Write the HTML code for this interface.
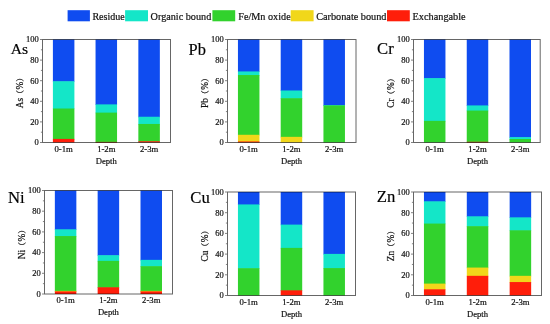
<!DOCTYPE html>
<html><head><meta charset="utf-8"><title>Heavy metal fractions by depth</title>
<style>html,body{margin:0;padding:0;background:#fff}svg{display:block}text{stroke:#111;stroke-width:.2px}</style></head>
<body>
<svg width="550" height="324" viewBox="0 0 550 324" font-family='"Liberation Serif","Noto Serif CJK SC",serif'>
<rect width="550" height="324" fill="#fff"/>
<rect x="67.6" y="10.2" width="22.3" height="11.1" fill="#0f4cf0"/>
<text x="92.4" y="19.55" font-size="10.0" fill="#111">Residue</text>
<rect x="125.1" y="10.2" width="22.9" height="11.1" fill="#14e6c8"/>
<text x="150.6" y="19.55" font-size="10.2" fill="#111">Organic bound</text>
<rect x="212.4" y="10.2" width="22.8" height="11.1" fill="#32d22d"/>
<text x="238.3" y="19.55" font-size="10.2" fill="#111">Fe/Mn oxide</text>
<rect x="290.7" y="10.2" width="22.9" height="11.1" fill="#f1d71a"/>
<text x="316.2" y="19.55" font-size="10.25" fill="#111">Carbonate bound</text>
<rect x="387.0" y="10.2" width="22.8" height="11.1" fill="#ff1e0a"/>
<text x="412.5" y="19.55" font-size="10.3" fill="#111">Exchangable</text>
<g>
<rect x="52.90" y="39.50" width="21.5" height="42.32" fill="#0f4cf0"/>
<rect x="52.90" y="81.22" width="21.5" height="27.89" fill="#14e6c8"/>
<rect x="52.90" y="108.51" width="21.5" height="30.99" fill="#32d22d"/>
<rect x="52.90" y="138.90" width="21.5" height="3.60" fill="#ff1e0a"/>
<rect x="95.55" y="39.50" width="21.5" height="65.49" fill="#0f4cf0"/>
<rect x="95.55" y="104.39" width="21.5" height="8.84" fill="#14e6c8"/>
<rect x="95.55" y="112.63" width="21.5" height="29.85" fill="#32d22d"/>
<rect x="95.55" y="141.88" width="21.5" height="0.62" fill="#ff1e0a"/>
<rect x="138.35" y="39.50" width="21.5" height="77.85" fill="#0f4cf0"/>
<rect x="138.35" y="116.75" width="21.5" height="7.81" fill="#14e6c8"/>
<rect x="138.35" y="123.96" width="21.5" height="17.90" fill="#32d22d"/>
<rect x="138.35" y="141.26" width="21.5" height="1.24" fill="#ff1e0a"/>
<rect x="42.5" y="39.5" width="128.00" height="103.00" fill="none" stroke="#000" stroke-opacity="0.6" stroke-width="1"/>
<line x1="40.00" x2="42.0" y1="142.50" y2="142.50" stroke="#000" stroke-opacity="0.55" stroke-width="0.9"/>
<text x="38.70" y="145.30" font-size="8.5" text-anchor="end" fill="#111">0</text>
<line x1="40.90" x2="42.0" y1="132.20" y2="132.20" stroke="#000" stroke-opacity="0.55" stroke-width="0.9"/>
<line x1="40.00" x2="42.0" y1="121.90" y2="121.90" stroke="#000" stroke-opacity="0.55" stroke-width="0.9"/>
<text x="38.70" y="124.70" font-size="8.5" text-anchor="end" fill="#111">20</text>
<line x1="40.90" x2="42.0" y1="111.60" y2="111.60" stroke="#000" stroke-opacity="0.55" stroke-width="0.9"/>
<line x1="40.00" x2="42.0" y1="101.30" y2="101.30" stroke="#000" stroke-opacity="0.55" stroke-width="0.9"/>
<text x="38.70" y="104.10" font-size="8.5" text-anchor="end" fill="#111">40</text>
<line x1="40.90" x2="42.0" y1="91.00" y2="91.00" stroke="#000" stroke-opacity="0.55" stroke-width="0.9"/>
<line x1="40.00" x2="42.0" y1="80.70" y2="80.70" stroke="#000" stroke-opacity="0.55" stroke-width="0.9"/>
<text x="38.70" y="83.50" font-size="8.5" text-anchor="end" fill="#111">60</text>
<line x1="40.90" x2="42.0" y1="70.40" y2="70.40" stroke="#000" stroke-opacity="0.55" stroke-width="0.9"/>
<line x1="40.00" x2="42.0" y1="60.10" y2="60.10" stroke="#000" stroke-opacity="0.55" stroke-width="0.9"/>
<text x="38.70" y="62.90" font-size="8.5" text-anchor="end" fill="#111">80</text>
<line x1="40.90" x2="42.0" y1="49.80" y2="49.80" stroke="#000" stroke-opacity="0.55" stroke-width="0.9"/>
<line x1="40.00" x2="42.0" y1="39.50" y2="39.50" stroke="#000" stroke-opacity="0.55" stroke-width="0.9"/>
<text x="38.70" y="42.30" font-size="8.5" text-anchor="end" fill="#111">100</text>
<text x="63.65" y="151.95" font-size="8.7" text-anchor="middle" fill="#111">0-1m</text>
<text x="106.30" y="151.95" font-size="8.7" text-anchor="middle" fill="#111">1-2m</text>
<text x="149.10" y="151.95" font-size="8.7" text-anchor="middle" fill="#111">2-3m</text>
<text x="106.30" y="163.90" font-size="8.6" text-anchor="middle" fill="#111">Depth</text>
<text transform="translate(22.70,107.53) rotate(-90)" font-size="8.7" fill="#111"><tspan x="-0.67" font-size="9.3">As</tspan><tspan x="9.25" font-size="8.2">（</tspan><tspan x="18.10" font-size="9.4">%</tspan><tspan x="25.90" font-size="8.2">）</tspan></text>
<text x="19.4" y="53.7" font-size="15.6" text-anchor="middle" fill="#000">As</text>
</g>
<g>
<rect x="237.95" y="39.50" width="21.5" height="32.53" fill="#0f4cf0"/>
<rect x="237.95" y="71.43" width="21.5" height="4.20" fill="#14e6c8"/>
<rect x="237.95" y="75.03" width="21.5" height="60.34" fill="#32d22d"/>
<rect x="237.95" y="134.78" width="21.5" height="7.29" fill="#f1d71a"/>
<rect x="237.95" y="141.47" width="21.5" height="1.03" fill="#ff1e0a"/>
<rect x="280.70" y="39.50" width="21.5" height="51.59" fill="#0f4cf0"/>
<rect x="280.70" y="90.48" width="21.5" height="8.33" fill="#14e6c8"/>
<rect x="280.70" y="98.21" width="21.5" height="39.23" fill="#32d22d"/>
<rect x="280.70" y="136.84" width="21.5" height="5.66" fill="#f1d71a"/>
<rect x="323.45" y="39.50" width="21.5" height="66.21" fill="#0f4cf0"/>
<rect x="323.45" y="105.11" width="21.5" height="0.91" fill="#14e6c8"/>
<rect x="323.45" y="105.42" width="21.5" height="37.08" fill="#32d22d"/>
<rect x="227.5" y="39.5" width="128.50" height="103.00" fill="none" stroke="#000" stroke-opacity="0.6" stroke-width="1"/>
<line x1="225.00" x2="227.0" y1="142.50" y2="142.50" stroke="#000" stroke-opacity="0.55" stroke-width="0.9"/>
<text x="223.70" y="145.30" font-size="8.5" text-anchor="end" fill="#111">0</text>
<line x1="225.90" x2="227.0" y1="132.20" y2="132.20" stroke="#000" stroke-opacity="0.55" stroke-width="0.9"/>
<line x1="225.00" x2="227.0" y1="121.90" y2="121.90" stroke="#000" stroke-opacity="0.55" stroke-width="0.9"/>
<text x="223.70" y="124.70" font-size="8.5" text-anchor="end" fill="#111">20</text>
<line x1="225.90" x2="227.0" y1="111.60" y2="111.60" stroke="#000" stroke-opacity="0.55" stroke-width="0.9"/>
<line x1="225.00" x2="227.0" y1="101.30" y2="101.30" stroke="#000" stroke-opacity="0.55" stroke-width="0.9"/>
<text x="223.70" y="104.10" font-size="8.5" text-anchor="end" fill="#111">40</text>
<line x1="225.90" x2="227.0" y1="91.00" y2="91.00" stroke="#000" stroke-opacity="0.55" stroke-width="0.9"/>
<line x1="225.00" x2="227.0" y1="80.70" y2="80.70" stroke="#000" stroke-opacity="0.55" stroke-width="0.9"/>
<text x="223.70" y="83.50" font-size="8.5" text-anchor="end" fill="#111">60</text>
<line x1="225.90" x2="227.0" y1="70.40" y2="70.40" stroke="#000" stroke-opacity="0.55" stroke-width="0.9"/>
<line x1="225.00" x2="227.0" y1="60.10" y2="60.10" stroke="#000" stroke-opacity="0.55" stroke-width="0.9"/>
<text x="223.70" y="62.90" font-size="8.5" text-anchor="end" fill="#111">80</text>
<line x1="225.90" x2="227.0" y1="49.80" y2="49.80" stroke="#000" stroke-opacity="0.55" stroke-width="0.9"/>
<line x1="225.00" x2="227.0" y1="39.50" y2="39.50" stroke="#000" stroke-opacity="0.55" stroke-width="0.9"/>
<text x="223.70" y="42.30" font-size="8.5" text-anchor="end" fill="#111">100</text>
<text x="248.70" y="151.95" font-size="8.7" text-anchor="middle" fill="#111">0-1m</text>
<text x="291.45" y="151.95" font-size="8.7" text-anchor="middle" fill="#111">1-2m</text>
<text x="334.20" y="151.95" font-size="8.7" text-anchor="middle" fill="#111">2-3m</text>
<text x="291.45" y="163.90" font-size="8.6" text-anchor="middle" fill="#111">Depth</text>
<text transform="translate(207.70,107.29) rotate(-90)" font-size="8.7" fill="#111"><tspan x="-0.63" font-size="9.3">Pb</tspan><tspan x="8.77" font-size="8.2">（</tspan><tspan x="17.62" font-size="9.4">%</tspan><tspan x="25.42" font-size="8.2">）</tspan></text>
<text x="197.2" y="54.6" font-size="16.4" text-anchor="middle" fill="#000">Pb</text>
</g>
<g>
<rect x="423.95" y="39.50" width="21.5" height="39.23" fill="#0f4cf0"/>
<rect x="423.95" y="78.12" width="21.5" height="43.35" fill="#14e6c8"/>
<rect x="423.95" y="120.87" width="21.5" height="21.63" fill="#32d22d"/>
<rect x="466.75" y="39.50" width="21.5" height="66.52" fill="#0f4cf0"/>
<rect x="466.75" y="105.42" width="21.5" height="5.75" fill="#14e6c8"/>
<rect x="466.75" y="110.57" width="21.5" height="31.81" fill="#32d22d"/>
<rect x="466.75" y="141.78" width="21.5" height="0.72" fill="#ff1e0a"/>
<rect x="509.50" y="39.50" width="21.5" height="98.24" fill="#0f4cf0"/>
<rect x="509.50" y="137.14" width="21.5" height="2.45" fill="#14e6c8"/>
<rect x="509.50" y="139.00" width="21.5" height="3.50" fill="#32d22d"/>
<rect x="413.5" y="39.5" width="126.70" height="103.00" fill="none" stroke="#000" stroke-opacity="0.6" stroke-width="1"/>
<line x1="411.00" x2="413.0" y1="142.50" y2="142.50" stroke="#000" stroke-opacity="0.55" stroke-width="0.9"/>
<text x="409.70" y="145.30" font-size="8.5" text-anchor="end" fill="#111">0</text>
<line x1="411.90" x2="413.0" y1="132.20" y2="132.20" stroke="#000" stroke-opacity="0.55" stroke-width="0.9"/>
<line x1="411.00" x2="413.0" y1="121.90" y2="121.90" stroke="#000" stroke-opacity="0.55" stroke-width="0.9"/>
<text x="409.70" y="124.70" font-size="8.5" text-anchor="end" fill="#111">20</text>
<line x1="411.90" x2="413.0" y1="111.60" y2="111.60" stroke="#000" stroke-opacity="0.55" stroke-width="0.9"/>
<line x1="411.00" x2="413.0" y1="101.30" y2="101.30" stroke="#000" stroke-opacity="0.55" stroke-width="0.9"/>
<text x="409.70" y="104.10" font-size="8.5" text-anchor="end" fill="#111">40</text>
<line x1="411.90" x2="413.0" y1="91.00" y2="91.00" stroke="#000" stroke-opacity="0.55" stroke-width="0.9"/>
<line x1="411.00" x2="413.0" y1="80.70" y2="80.70" stroke="#000" stroke-opacity="0.55" stroke-width="0.9"/>
<text x="409.70" y="83.50" font-size="8.5" text-anchor="end" fill="#111">60</text>
<line x1="411.90" x2="413.0" y1="70.40" y2="70.40" stroke="#000" stroke-opacity="0.55" stroke-width="0.9"/>
<line x1="411.00" x2="413.0" y1="60.10" y2="60.10" stroke="#000" stroke-opacity="0.55" stroke-width="0.9"/>
<text x="409.70" y="62.90" font-size="8.5" text-anchor="end" fill="#111">80</text>
<line x1="411.90" x2="413.0" y1="49.80" y2="49.80" stroke="#000" stroke-opacity="0.55" stroke-width="0.9"/>
<line x1="411.00" x2="413.0" y1="39.50" y2="39.50" stroke="#000" stroke-opacity="0.55" stroke-width="0.9"/>
<text x="409.70" y="42.30" font-size="8.5" text-anchor="end" fill="#111">100</text>
<text x="434.70" y="151.95" font-size="8.7" text-anchor="middle" fill="#111">0-1m</text>
<text x="477.50" y="151.95" font-size="8.7" text-anchor="middle" fill="#111">1-2m</text>
<text x="520.25" y="151.95" font-size="8.7" text-anchor="middle" fill="#111">2-3m</text>
<text x="477.50" y="163.90" font-size="8.6" text-anchor="middle" fill="#111">Depth</text>
<text transform="translate(393.70,107.05) rotate(-90)" font-size="8.7" fill="#111"><tspan x="-0.60" font-size="9.3">Cr</tspan><tspan x="8.28" font-size="8.2">（</tspan><tspan x="17.13" font-size="9.4">%</tspan><tspan x="24.93" font-size="8.2">）</tspan></text>
<text x="385.4" y="53.7" font-size="16.7" text-anchor="middle" fill="#000">Cr</text>
</g>
<g>
<rect x="54.85" y="190.50" width="21.5" height="39.41" fill="#0f4cf0"/>
<rect x="54.85" y="229.31" width="21.5" height="7.33" fill="#14e6c8"/>
<rect x="54.85" y="236.04" width="21.5" height="55.45" fill="#32d22d"/>
<rect x="54.85" y="290.89" width="21.5" height="1.12" fill="#f1d71a"/>
<rect x="54.85" y="291.41" width="21.5" height="2.59" fill="#ff1e0a"/>
<rect x="97.65" y="190.50" width="21.5" height="65.29" fill="#0f4cf0"/>
<rect x="97.65" y="255.19" width="21.5" height="6.29" fill="#14e6c8"/>
<rect x="97.65" y="260.88" width="21.5" height="26.99" fill="#32d22d"/>
<rect x="97.65" y="287.27" width="21.5" height="6.73" fill="#ff1e0a"/>
<rect x="140.50" y="190.50" width="21.5" height="69.95" fill="#0f4cf0"/>
<rect x="140.50" y="259.85" width="21.5" height="6.91" fill="#14e6c8"/>
<rect x="140.50" y="266.16" width="21.5" height="25.34" fill="#32d22d"/>
<rect x="140.50" y="290.89" width="21.5" height="1.12" fill="#f1d71a"/>
<rect x="140.50" y="291.41" width="21.5" height="2.59" fill="#ff1e0a"/>
<rect x="44.5" y="190.5" width="128.00" height="103.50" fill="none" stroke="#000" stroke-opacity="0.6" stroke-width="1"/>
<line x1="42.00" x2="44.0" y1="294.00" y2="294.00" stroke="#000" stroke-opacity="0.55" stroke-width="0.9"/>
<text x="40.70" y="296.80" font-size="8.5" text-anchor="end" fill="#111">0</text>
<line x1="42.90" x2="44.0" y1="283.65" y2="283.65" stroke="#000" stroke-opacity="0.55" stroke-width="0.9"/>
<line x1="42.00" x2="44.0" y1="273.30" y2="273.30" stroke="#000" stroke-opacity="0.55" stroke-width="0.9"/>
<text x="40.70" y="276.10" font-size="8.5" text-anchor="end" fill="#111">20</text>
<line x1="42.90" x2="44.0" y1="262.95" y2="262.95" stroke="#000" stroke-opacity="0.55" stroke-width="0.9"/>
<line x1="42.00" x2="44.0" y1="252.60" y2="252.60" stroke="#000" stroke-opacity="0.55" stroke-width="0.9"/>
<text x="40.70" y="255.40" font-size="8.5" text-anchor="end" fill="#111">40</text>
<line x1="42.90" x2="44.0" y1="242.25" y2="242.25" stroke="#000" stroke-opacity="0.55" stroke-width="0.9"/>
<line x1="42.00" x2="44.0" y1="231.90" y2="231.90" stroke="#000" stroke-opacity="0.55" stroke-width="0.9"/>
<text x="40.70" y="234.70" font-size="8.5" text-anchor="end" fill="#111">60</text>
<line x1="42.90" x2="44.0" y1="221.55" y2="221.55" stroke="#000" stroke-opacity="0.55" stroke-width="0.9"/>
<line x1="42.00" x2="44.0" y1="211.20" y2="211.20" stroke="#000" stroke-opacity="0.55" stroke-width="0.9"/>
<text x="40.70" y="214.00" font-size="8.5" text-anchor="end" fill="#111">80</text>
<line x1="42.90" x2="44.0" y1="200.85" y2="200.85" stroke="#000" stroke-opacity="0.55" stroke-width="0.9"/>
<line x1="42.00" x2="44.0" y1="190.50" y2="190.50" stroke="#000" stroke-opacity="0.55" stroke-width="0.9"/>
<text x="40.70" y="193.30" font-size="8.5" text-anchor="end" fill="#111">100</text>
<text x="65.60" y="303.25" font-size="8.7" text-anchor="middle" fill="#111">0-1m</text>
<text x="108.40" y="303.25" font-size="8.7" text-anchor="middle" fill="#111">1-2m</text>
<text x="151.25" y="303.25" font-size="8.7" text-anchor="middle" fill="#111">2-3m</text>
<text x="108.40" y="314.60" font-size="8.6" text-anchor="middle" fill="#111">Depth</text>
<text transform="translate(24.70,258.55) rotate(-90)" font-size="8.7" fill="#111"><tspan x="-0.60" font-size="9.3">Ni</tspan><tspan x="8.28" font-size="8.2">（</tspan><tspan x="17.13" font-size="9.4">%</tspan><tspan x="24.93" font-size="8.2">）</tspan></text>
<text x="16.3" y="202.7" font-size="16.7" text-anchor="middle" fill="#000">Ni</text>
</g>
<g>
<rect x="237.95" y="192.00" width="21.5" height="13.02" fill="#0f4cf0"/>
<rect x="237.95" y="204.42" width="21.5" height="64.36" fill="#14e6c8"/>
<rect x="237.95" y="268.18" width="21.5" height="27.32" fill="#32d22d"/>
<rect x="280.70" y="192.00" width="21.5" height="33.20" fill="#0f4cf0"/>
<rect x="280.70" y="224.60" width="21.5" height="23.89" fill="#14e6c8"/>
<rect x="280.70" y="247.89" width="21.5" height="43.04" fill="#32d22d"/>
<rect x="280.70" y="290.32" width="21.5" height="5.18" fill="#ff1e0a"/>
<rect x="323.45" y="192.00" width="21.5" height="62.49" fill="#0f4cf0"/>
<rect x="323.45" y="253.89" width="21.5" height="14.78" fill="#14e6c8"/>
<rect x="323.45" y="268.07" width="21.5" height="27.43" fill="#32d22d"/>
<rect x="227.5" y="192.0" width="128.00" height="103.50" fill="none" stroke="#000" stroke-opacity="0.6" stroke-width="1"/>
<line x1="225.00" x2="227.0" y1="295.50" y2="295.50" stroke="#000" stroke-opacity="0.55" stroke-width="0.9"/>
<text x="223.70" y="298.30" font-size="8.5" text-anchor="end" fill="#111">0</text>
<line x1="225.90" x2="227.0" y1="285.15" y2="285.15" stroke="#000" stroke-opacity="0.55" stroke-width="0.9"/>
<line x1="225.00" x2="227.0" y1="274.80" y2="274.80" stroke="#000" stroke-opacity="0.55" stroke-width="0.9"/>
<text x="223.70" y="277.60" font-size="8.5" text-anchor="end" fill="#111">20</text>
<line x1="225.90" x2="227.0" y1="264.45" y2="264.45" stroke="#000" stroke-opacity="0.55" stroke-width="0.9"/>
<line x1="225.00" x2="227.0" y1="254.10" y2="254.10" stroke="#000" stroke-opacity="0.55" stroke-width="0.9"/>
<text x="223.70" y="256.90" font-size="8.5" text-anchor="end" fill="#111">40</text>
<line x1="225.90" x2="227.0" y1="243.75" y2="243.75" stroke="#000" stroke-opacity="0.55" stroke-width="0.9"/>
<line x1="225.00" x2="227.0" y1="233.40" y2="233.40" stroke="#000" stroke-opacity="0.55" stroke-width="0.9"/>
<text x="223.70" y="236.20" font-size="8.5" text-anchor="end" fill="#111">60</text>
<line x1="225.90" x2="227.0" y1="223.05" y2="223.05" stroke="#000" stroke-opacity="0.55" stroke-width="0.9"/>
<line x1="225.00" x2="227.0" y1="212.70" y2="212.70" stroke="#000" stroke-opacity="0.55" stroke-width="0.9"/>
<text x="223.70" y="215.50" font-size="8.5" text-anchor="end" fill="#111">80</text>
<line x1="225.90" x2="227.0" y1="202.35" y2="202.35" stroke="#000" stroke-opacity="0.55" stroke-width="0.9"/>
<line x1="225.00" x2="227.0" y1="192.00" y2="192.00" stroke="#000" stroke-opacity="0.55" stroke-width="0.9"/>
<text x="223.70" y="194.80" font-size="8.5" text-anchor="end" fill="#111">100</text>
<text x="248.70" y="304.95" font-size="8.7" text-anchor="middle" fill="#111">0-1m</text>
<text x="291.45" y="304.95" font-size="8.7" text-anchor="middle" fill="#111">1-2m</text>
<text x="334.20" y="304.95" font-size="8.7" text-anchor="middle" fill="#111">2-3m</text>
<text x="291.45" y="316.90" font-size="8.6" text-anchor="middle" fill="#111">Depth</text>
<text transform="translate(207.70,260.78) rotate(-90)" font-size="8.7" fill="#111"><tspan x="-0.70" font-size="9.3">Cu</tspan><tspan x="9.74" font-size="8.2">（</tspan><tspan x="18.59" font-size="9.4">%</tspan><tspan x="26.39" font-size="8.2">）</tspan></text>
<text x="200.1" y="202.5" font-size="16.7" text-anchor="middle" fill="#000">Cu</text>
</g>
<g>
<rect x="423.95" y="192.00" width="21.5" height="9.91" fill="#0f4cf0"/>
<rect x="423.95" y="201.31" width="21.5" height="22.85" fill="#14e6c8"/>
<rect x="423.95" y="223.57" width="21.5" height="60.63" fill="#32d22d"/>
<rect x="423.95" y="283.60" width="21.5" height="6.29" fill="#f1d71a"/>
<rect x="423.95" y="289.29" width="21.5" height="6.21" fill="#ff1e0a"/>
<rect x="466.80" y="192.00" width="21.5" height="24.92" fill="#0f4cf0"/>
<rect x="466.80" y="216.32" width="21.5" height="10.43" fill="#14e6c8"/>
<rect x="466.80" y="226.16" width="21.5" height="42.00" fill="#32d22d"/>
<rect x="466.80" y="267.56" width="21.5" height="8.88" fill="#f1d71a"/>
<rect x="466.80" y="275.83" width="21.5" height="19.67" fill="#ff1e0a"/>
<rect x="509.65" y="192.00" width="21.5" height="25.96" fill="#0f4cf0"/>
<rect x="509.65" y="217.36" width="21.5" height="13.54" fill="#14e6c8"/>
<rect x="509.65" y="230.30" width="21.5" height="46.14" fill="#32d22d"/>
<rect x="509.65" y="275.83" width="21.5" height="6.81" fill="#f1d71a"/>
<rect x="509.65" y="282.05" width="21.5" height="13.45" fill="#ff1e0a"/>
<rect x="413.5" y="192.0" width="128.00" height="103.50" fill="none" stroke="#000" stroke-opacity="0.6" stroke-width="1"/>
<line x1="411.00" x2="413.0" y1="295.50" y2="295.50" stroke="#000" stroke-opacity="0.55" stroke-width="0.9"/>
<text x="409.70" y="298.30" font-size="8.5" text-anchor="end" fill="#111">0</text>
<line x1="411.90" x2="413.0" y1="285.15" y2="285.15" stroke="#000" stroke-opacity="0.55" stroke-width="0.9"/>
<line x1="411.00" x2="413.0" y1="274.80" y2="274.80" stroke="#000" stroke-opacity="0.55" stroke-width="0.9"/>
<text x="409.70" y="277.60" font-size="8.5" text-anchor="end" fill="#111">20</text>
<line x1="411.90" x2="413.0" y1="264.45" y2="264.45" stroke="#000" stroke-opacity="0.55" stroke-width="0.9"/>
<line x1="411.00" x2="413.0" y1="254.10" y2="254.10" stroke="#000" stroke-opacity="0.55" stroke-width="0.9"/>
<text x="409.70" y="256.90" font-size="8.5" text-anchor="end" fill="#111">40</text>
<line x1="411.90" x2="413.0" y1="243.75" y2="243.75" stroke="#000" stroke-opacity="0.55" stroke-width="0.9"/>
<line x1="411.00" x2="413.0" y1="233.40" y2="233.40" stroke="#000" stroke-opacity="0.55" stroke-width="0.9"/>
<text x="409.70" y="236.20" font-size="8.5" text-anchor="end" fill="#111">60</text>
<line x1="411.90" x2="413.0" y1="223.05" y2="223.05" stroke="#000" stroke-opacity="0.55" stroke-width="0.9"/>
<line x1="411.00" x2="413.0" y1="212.70" y2="212.70" stroke="#000" stroke-opacity="0.55" stroke-width="0.9"/>
<text x="409.70" y="215.50" font-size="8.5" text-anchor="end" fill="#111">80</text>
<line x1="411.90" x2="413.0" y1="202.35" y2="202.35" stroke="#000" stroke-opacity="0.55" stroke-width="0.9"/>
<line x1="411.00" x2="413.0" y1="192.00" y2="192.00" stroke="#000" stroke-opacity="0.55" stroke-width="0.9"/>
<text x="409.70" y="194.80" font-size="8.5" text-anchor="end" fill="#111">100</text>
<text x="434.70" y="304.95" font-size="8.7" text-anchor="middle" fill="#111">0-1m</text>
<text x="477.55" y="304.95" font-size="8.7" text-anchor="middle" fill="#111">1-2m</text>
<text x="520.40" y="304.95" font-size="8.7" text-anchor="middle" fill="#111">2-3m</text>
<text x="477.55" y="316.90" font-size="8.6" text-anchor="middle" fill="#111">Depth</text>
<text transform="translate(393.70,260.53) rotate(-90)" font-size="8.7" fill="#111"><tspan x="-0.67" font-size="9.3">Zn</tspan><tspan x="9.25" font-size="8.2">（</tspan><tspan x="18.10" font-size="9.4">%</tspan><tspan x="25.90" font-size="8.2">）</tspan></text>
<text x="386.0" y="202.1" font-size="16.7" text-anchor="middle" fill="#000">Zn</text>
</g>
</svg>
</body></html>
